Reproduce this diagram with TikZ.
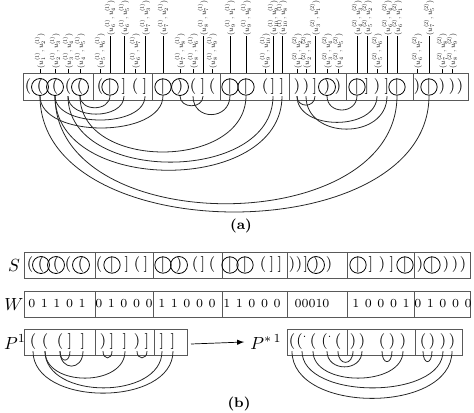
\documentclass[tikz,border=0pt]{standalone}
\usepackage{amsmath, amssymb}
\usepackage{graphicx}

\tikzset{
  sym/.style={inner sep=0.5pt, font=\small},
  circ/.style={draw, circle, minimum size=9pt, inner sep=0pt, font=\small, line width=0.45pt},
  lab/.style={rotate=90, anchor=west, inner sep=0.3pt},
  box/.style={draw=black!65, line width=0.5pt},
  lnk/.style={draw=black!85, line width=0.45pt},
  dig/.style={font=\scriptsize, inner sep=0pt},
}
\newcommand{\pairarc}[3]{\draw[lnk] (#1.south) .. controls +(0,#3) and +(0,#3) .. (#2.south);}
\newcommand{\dgap}{\hspace{3.2pt}}
\newcommand{\edgelab}[3]{\scalebox{0.44}{$(u^{(#3)}_{#1},u^{(#3)}_{#2})$}}

\begin{document}
\begin{tikzpicture}[x=0.02cm, y=-0.02cm]
    \useasboundingbox (0,0) rectangle (474,413);

    % (a) the sequence with its labels and arcs
    \begin{scope}
        \draw[box] (23,73) rectangle (468,100);
        \foreach \x in {93,152,220,289,346,413} \draw[box] (\x,73) -- (\x,100);
        \coordinate (atop) at (0,73);

        \foreach \n/\x in {1/28, 4/68, 6/100, 9/135, 13/193, 15/212, 18/265}
            \node[sym] (s\n) at (\x,87) {(};
        \foreach \n/\x in {21/297, 22/306, 25/338, 28/377, 31/417, 33/442, 34/452, 35/460}
            \node[sym] (s\n) at (\x,87) {)};
        \foreach \n/\x in {8/124, 10/145, 14/203, 19/273, 20/282, 23/315, 27/367, 29/387}
            \node[sym] (s\n) at (\x,87) {]};
        \foreach \n/\x in {2/40, 3/55, 5/80}
            \node[circ] (s\n) at (\x,87) {(};
        \foreach \n/\x in {7/110, 11/163, 16/230, 17/246, 26/357, 30/397, 32/429}
            \node[circ] (s\n) at (\x,87) {$\vert$};
        \foreach \n/\x in {12/180, 24/327}
            \node[circ] (s\n) at (\x,87) {)};

        \foreach \n/\a/\b/\k/\h in {2/1/2/1/69, 3/2/3/1/69, 4/3/4/1/69, 5/4/5/1/69, 6/5/6/1/69,
                7/6/4/1/36, 8/6/5/1/36, 9/6/7/1/69, 10/7/3/1/36, 11/7/2/1/36, 12/7/8/1/69,
                13/8/6/1/69, 14/8/7/1/36, 15/8/9/1/69, 16/9/1/1/36, 17/9/8/1/36, 18/9/10/1/69,
                19/10/9/1/36, 20/10/8/1/36, 21/1/2/2/69, 22/2/3/2/69, 23/3/1/2/36, 24/3/4/2/69,
                25/4/5/2/69, 26/4/3/2/36, 27/5/2/2/36, 28/5/6/2/69, 29/6/4/2/36, 30/6/1/2/36,
                31/6/7/2/69, 32/7/5/2/36, 33/7/8/2/69, 34/8/9/2/69} {
            \node[lab] (l\n) at (s\n |- 0,\h) {\edgelab{\a}{\b}{\k}};
            \draw (l\n.west) -- (s\n |- atop);
        }

        \pairarc{s5}{s7}{16}
        \pairarc{s4}{s8}{24}
        \pairarc{s3}{s10}{32}
        \pairarc{s2}{s11}{43}
        \pairarc{s12}{s14}{13}
        \pairarc{s13}{s16}{25}
        \pairarc{s21}{s23}{12}
        \pairarc{s24}{s26}{19}
        \pairarc{s21}{s28}{35}
        \pairarc{s22}{s29}{44}
        \pairarc{s5}{s17}{75}
        \pairarc{s4}{s19}{88}
        \pairarc{s3}{s20}{99}
        \pairarc{s3}{s30}{144}
        \pairarc{s2}{s32}{155}

        \node[font=\footnotesize\bfseries] (capa) at (241,226) {(a)};
    \end{scope}

    % (b) rows S, W and P
    \begin{scope}
        \node[font=\normalsize] (lblS) at (14,265) {$S$};
        \draw[box] (24,252) rectangle (470,278);
        \foreach \x in {95,153,222,287,347,414} \draw[box] (\x,252) -- (\x,278);
        \foreach \n/\x in {1/30, 4/68, 6/99, 9/137, 13/195, 15/212, 18/263}
            \node[sym] (t\n) at (\x,265) {(};
        \foreach \n/\x in {21/292, 22/299, 25/329, 28/382, 31/420, 33/446, 34/455, 35/463}
            \node[sym] (t\n) at (\x,265) {)};
        \foreach \n/\x in {8/127, 10/146, 14/203, 19/272, 20/280, 23/306, 27/371, 29/392}
            \node[sym] (t\n) at (\x,265) {]};
        \foreach \n/\x in {2/41, 3/56, 5/81}
            \node[circ] (t\n) at (\x,265) {(};
        \foreach \n/\x in {7/112, 11/163, 16/230, 17/245, 26/358, 30/405, 32/432}
            \node[circ] (t\n) at (\x,265) {$\vert$};
        \foreach \n/\x in {12/179, 24/316}
            \node[circ] (t\n) at (\x,265) {)};

        \node[font=\normalsize] (lblW) at (14,304) {$W$};
        \draw[box] (24,291) rectangle (470,317);
        \foreach \x in {95,153,222,287,347,414} \draw[box] (\x,291) -- (\x,317);
        \node[dig] (w1) at (57,304) {0\dgap 1\dgap 1\dgap 0\dgap 1};
        \node[dig] (w2) at (124,304) {0\dgap 1\dgap 0\dgap 0\dgap 0};
        \node[dig] (w3) at (187,304) {1\dgap 1\dgap 0\dgap 0\dgap 0};
        \node[dig] (w4) at (252,304) {1\dgap 1\dgap 0\dgap 0\dgap 0};
        \node[dig] (w5) at (312,304) {00010};
        \node[dig] (w6) at (381,304) {1\dgap 0\dgap 0\dgap 0\dgap 1};
        \node[dig] (w7) at (443,304) {0\dgap 1\dgap 0\dgap 0\dgap 0};

        \node[font=\normalsize] (lblP) at (15,342) {$P^{1}$};
        \draw[box] (24,329) rectangle (187,355);
        \foreach \x in {95,154} \draw[box] (\x,329) -- (\x,355);
        \foreach \n/\x in {1/33, 2/45, 3/60}
            \node[sym] (p\n) at (\x,342) {(};
        \foreach \n/\x in {4/70, 5/83, 7/112, 8/125, 10/147, 11/162, 12/173}
            \node[sym] (p\n) at (\x,342) {]};
        \foreach \n/\x in {6/103, 9/137}
            \node[sym] (p\n) at (\x,342) {)};
        \pairarc{p3}{p4}{12}
        \pairarc{p6}{p7}{9}
        \pairarc{p9}{p10}{9}
        \pairarc{p3}{p5}{20}
        \pairarc{p2}{p8}{36}
        \pairarc{p2}{p11}{49}
        \pairarc{p1}{p12}{56}

        \coordinate (pend) at (191,344);
        \node[font=\normalsize] (lblQ) at (266,342) {$P^{*\,1}$};
        \draw[-latex] (pend) -- (lblQ.west);

        \draw[box] (287,329) rectangle (462,355);
        \foreach \x in {347,415} \draw[box] (\x,329) -- (\x,355);
        \foreach \n/\x in {1/292, 3/313, 5/338, 8/382, 11/423}
            \node[sym] (q\n) at (\x,342) {(};
        \foreach \n/\x in {2/302, 4/327}
            \node[sym] (q\n) at (\x,342) {$(^{\cdot}$};
        \foreach \n/\x in {6/353, 7/362, 9/392, 10/403, 12/432, 13/443, 14/452}
            \node[sym] (q\n) at (\x,342) {)};
        \pairarc{q5}{q6}{15}
        \pairarc{q4}{q7}{21}
        \pairarc{q8}{q9}{14}
        \pairarc{q11}{q12}{14}
        \pairarc{q3}{q10}{36}
        \pairarc{q2}{q13}{49}
        \pairarc{q1}{q14}{63}

        \node[font=\footnotesize\bfseries] (capb) at (239,404) {(b)};
    \end{scope}
\end{tikzpicture}
\end{document}
